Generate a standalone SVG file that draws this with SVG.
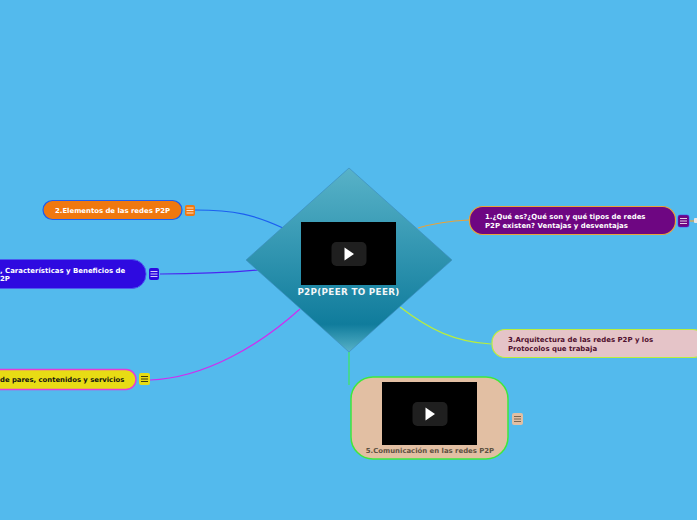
<svg xmlns="http://www.w3.org/2000/svg" width="697" height="520" viewBox="0 0 697 520">
<defs>
<linearGradient id="dg" x1="0" y1="0" x2="0" y2="1">
<stop offset="0" stop-color="#58b2c8"/>
<stop offset="0.85" stop-color="#107c9c"/>
<stop offset="1" stop-color="#58b2c8"/>
</linearGradient>
<g id="play"><rect x="-17.500" y="-12" width="35" height="24" rx="5" fill="#1f1f1f"/><path d="M-4.500 -6.500L5 0L-4.500 6.500Z" fill="#fff"/></g>
</defs>
<style>
text{font-family:"DejaVu Sans",sans-serif;font-weight:700;font-size:6.950px}
.c{fill:none;stroke-width:1.200}
.l{stroke-width:.8;fill:none}
</style>
<rect width="697" height="520" fill="#53baed"/>
<g id="connectors">
<path class="c" stroke="#1c5ff0" d="M195 210C235 210 255 215 283 228"/>
<path class="c" stroke="#4a28f0" d="M160 274C195 274 225 273 258 270"/>
<path class="c" stroke="#d02cf0" d="M150 380C205 378 260 345 300 309"/>
<path class="c" stroke="#e8a33a" d="M418 228C435 223 450 221 469 220"/>
<path class="c" stroke="#b9ee3c" d="M400 307C430 330 455 342 491 344"/>
<path class="c" stroke="#3fe85a" d="M349 352L349 385"/>
<path class="c" stroke="#e8a33a" d="M690 221L694 221"/>
</g>
<g id="root">
<path d="M349 168L452 260L349 352L246 260Z" fill="url(#dg)" stroke="#3d8fc0" stroke-width="0.700"/>
<rect x="301" y="222" width="95" height="63" fill="#000"/>
<use href="#play" x="349" y="254"/>
<text x="348.500" y="295" text-anchor="middle" fill="#f2f6f8" style="font-size:8.800px;letter-spacing:.3px">P2P(PEER TO PEER)</text>
</g>
<g id="n2">
<rect x="43" y="200.500" width="139" height="19" rx="9.500" fill="#f0780f" stroke="#1c5ff0" stroke-width="1.200"/>
<text x="55" y="213" fill="#fff" style="font-size:6.900px">2.Elementos de las redes P2P</text>
<rect x="185" y="205" width="10" height="11" rx="2" fill="#f0780f"/>
<path class="l" stroke="#fff" d="M186.500 208H193.500M186.500 210.500H193.500M186.500 213H193.500"/>
</g>
<g id="n4">
<rect x="-30" y="259.500" width="176" height="29" rx="14" fill="#2e0ae0" stroke="#4a5cf0" stroke-width="1"/>
<text x="0" y="273" fill="#fff">, Características y Beneficios de</text>
<text x="0" y="281" fill="#fff">2P</text>
<rect x="149" y="268" width="10" height="12" rx="2" fill="#2e0ae0"/>
<path class="l" stroke="#fff" d="M150.500 271.500H157.500M150.500 274H157.500M150.500 276.500H157.500"/>
</g>
<g id="n6">
<rect x="-30" y="369.500" width="166" height="20" rx="10" fill="#e8dc14" stroke="#e33cd8" stroke-width="1.500"/>
<text x="0" y="382" fill="#111" style="font-size:6.850px">de pares, contenidos y servicios</text>
<rect x="139" y="373" width="11" height="12" rx="2" fill="#e8dc14"/>
<path class="l" stroke="#111" d="M141 376.500H148M141 379H148M141 381.500H148"/>
</g>
<g id="n1">
<rect x="469.500" y="206.500" width="206" height="28" rx="13" fill="#6e0682" stroke="#e8a33a" stroke-width="1.200"/>
<text x="485" y="219" fill="#fff">1.¿Qué es?¿Qué son y qué tipos de redes</text>
<text x="485" y="228" fill="#fff">P2P existen? Ventajas y desventajas</text>
<rect x="678" y="215" width="11" height="12" rx="2" fill="#6e0682" stroke="#4a28f0" stroke-width="0.500"/>
<path class="l" stroke="#fff" d="M680 218.500H687M680 221H687M680 223.500H687"/>
<rect x="694" y="218" width="5" height="5" rx="1" fill="#e6e6e6"/>
</g>
<g id="n3">
<rect x="492" y="329.500" width="214" height="28" rx="13" fill="#e5c4c8" stroke="#b9ee3c" stroke-width="1.200"/>
<text x="508" y="342" fill="#50102e">3.Arquitectura de las redes P2P y los</text>
<text x="508" y="351" fill="#50102e">Protocolos que trabaja</text>
</g>
<g id="n5">
<rect x="351" y="377" width="157" height="82" rx="22" fill="#e2bfa3" stroke="#3fe83c" stroke-width="1.500"/>
<rect x="382" y="382" width="95" height="63" fill="#000"/>
<use href="#play" x="430" y="414"/>
<text x="430" y="453" text-anchor="middle" fill="#5c5040" style="font-size:6.900px">5.Comunicación en las redes P2P</text>
<rect x="512" y="413" width="11" height="12" rx="2" fill="#e2bfa3"/>
<path class="l" stroke="#5c5040" d="M514 416.500H521M514 419H521M514 421.500H521"/>
</g>
</svg>
